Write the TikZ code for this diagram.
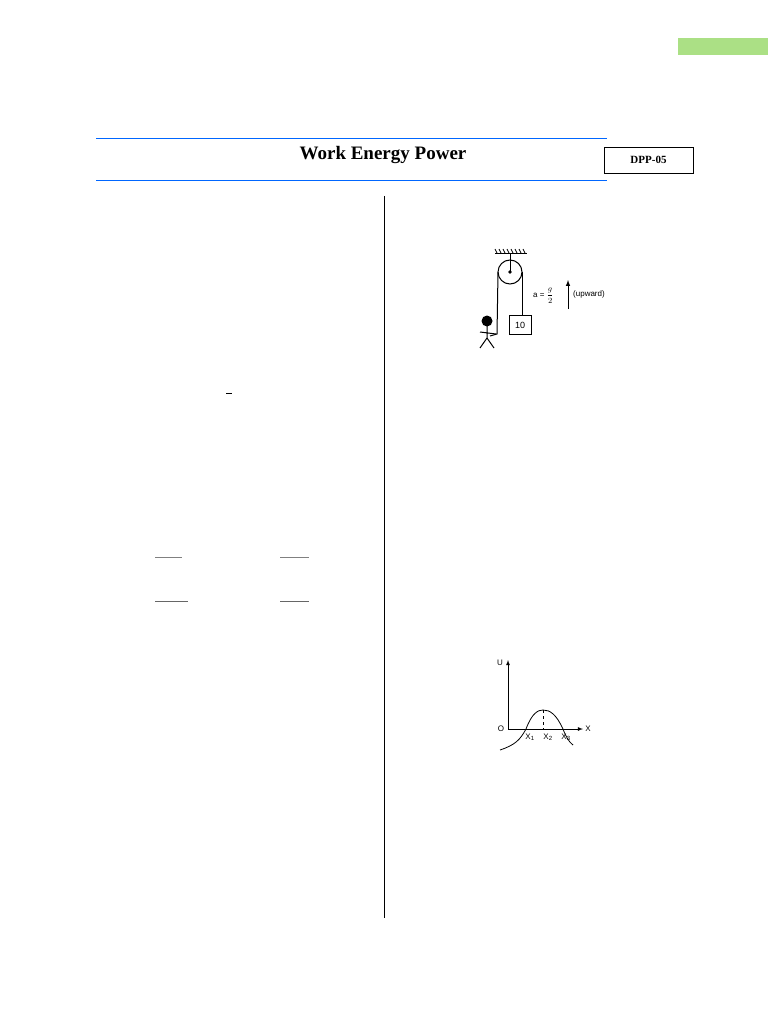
\documentclass[tikz,border=0pt]{standalone}
\usepackage{fontspec}
\setmainfont{Liberation Serif}
\newfontfamily\fig{Liberation Sans}
\begin{document}
\begin{tikzpicture}[x=1pt,y=-1pt,
  lbl/.style={font=\fig\fontsize{8}{9}\selectfont, inner sep=0pt}]
\useasboundingbox (0,0) rectangle (768,1024);
\fill[white] (0,0) rectangle (768,1024);
\fill[green!45!lime!60!gray!60] (678,38) rectangle (768,55);
\draw[blue!60!cyan, line width=0.7pt] (96,138) -- (607,138) (96,180) -- (607,180);
\node (title) at (383,155) {\fontsize{19}{22}\selectfont\bfseries Work Energy Power};
\node[draw, line width=0.7pt, minimum width=89pt, minimum height=26pt, inner sep=0pt] (dpp) at (648.5,160) {\fontsize{11}{13}\selectfont\bfseries DPP-05};
\draw[line width=0.8pt] (384,196) -- (384,918);
% small marks
\draw[line width=0.8pt] (226,393) -- (232,393);
\draw[gray, line width=0.8pt] (155,557) -- (182,557) (280,557) -- (309,557);
\draw[gray!80!black, line width=0.7pt] (155,601) -- (188,601) (280,601) -- (309,601);
% pulley
\draw[line width=1pt] (495,253) -- (527,253);
\foreach \i in {0,...,7} \draw[line width=0.7pt] (497+4*\i,253) -- (495+4*\i,249);
\draw[line width=1pt] (510,253) -- (510,272);
\draw[line width=1pt] (510,272) circle (12);
\fill (510,272) circle (1.8);
\draw[line width=1pt] (498,272) -- (497,334) -- (490,336);
\draw[line width=1pt] (522,272) -- (522,315);
\node[draw, line width=1pt, minimum width=22pt, minimum height=19pt, inner sep=0pt, font=\fig\fontsize{9}{10}\selectfont] (box) at (520,325) {10};
\fill (487,321) circle (5.5);
\draw[line width=1pt] (487,326) -- (487,338) (480,348) -- (487,338) -- (494,348) (480,332) -- (496,334);
\node[lbl, anchor=west] (acc) at (533,296) {a = $\displaystyle\frac{g}{2}$};
\draw[-latex, line width=1pt] (568,309) -- (568,280);
\node[lbl, anchor=west] (up) at (573,294) {(upward)};
% graph
\coordinate (O) at (508,729);
\draw[-latex, line width=0.8pt] (O) -- (508,660);
\draw[-latex, line width=0.8pt] (O) -- (583,729);
\node[lbl] (U) at (500,663) {U};
\node[lbl] (Ol) at (501,729) {O};
\node[lbl] (X) at (588,729) {X};
\draw[line width=0.8pt] (500,750) .. controls (515,745) and (520,740) .. (526,729) .. controls (532,713) and (538,710) .. (543,710) .. controls (550,710) and (556,714) .. (563,729) .. controls (566,737) and (569,742) .. (573,745);
\draw[dashed, line width=0.6pt] (543,710) -- (543,729);
\node[lbl] at (530,737) {X\textsubscript{1}};
\node[lbl] at (548,737) {X\textsubscript{2}};
\node[lbl] at (566,737) {X\textsubscript{3}};
\end{tikzpicture}
\end{document}
